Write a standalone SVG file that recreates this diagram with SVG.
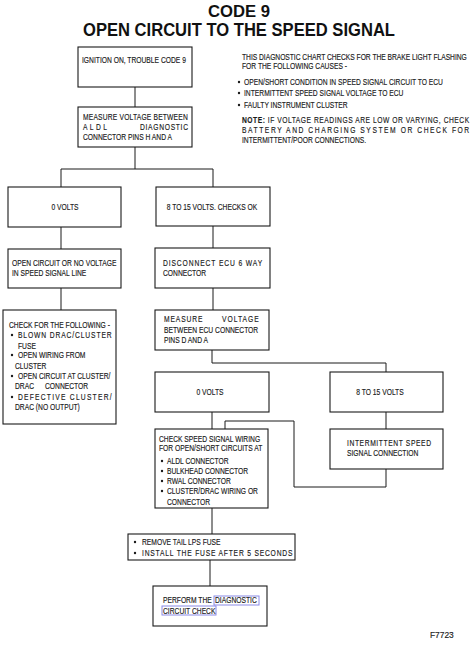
<svg xmlns="http://www.w3.org/2000/svg" width="474" height="647" viewBox="0 0 474 647">
<style>
.bx{fill:#fff;stroke:#1a1a1a;stroke-width:1.1}
.ln{fill:none;stroke:#1a1a1a;stroke-width:1}
.t{font-family:"Liberation Sans",Arial,sans-serif;font-size:8.4px;fill:#1a1a1a;stroke:#1a1a1a;stroke-width:0.15}
.m{text-anchor:middle}
.h{font-family:"Liberation Sans",Arial,sans-serif;font-weight:bold;fill:#111}
.b{fill:#1a1a1a}
.hl{fill:none;stroke:#8a8ae6;stroke-width:1}
</style>
<rect width="474" height="647" fill="#fff"/>
<g id="title">
<text class="h" x="208" y="17" font-size="17" textLength="62" lengthAdjust="spacingAndGlyphs">CODE 9</text>
<text class="h" x="83" y="36" font-size="18" textLength="312" lengthAdjust="spacingAndGlyphs">OPEN CIRCUIT TO THE SPEED SIGNAL</text>
</g>
<g id="description">
<text class="t" transform="translate(242,59.5) scale(0.8,1)" textLength="281" lengthAdjust="spacing">THIS DIAGNOSTIC CHART CHECKS FOR THE BRAKE LIGHT FLASHING</text>
<text class="t" transform="translate(242,69) scale(0.8,1)">FOR THE FOLLOWING CAUSES -</text>
<circle class="b" cx="239" cy="82" r="1.2"/>
<text class="t" transform="translate(244,85) scale(0.8,1)">OPEN/SHORT CONDITION IN SPEED SIGNAL CIRCUIT TO ECU</text>
<circle class="b" cx="239" cy="93" r="1.2"/>
<text class="t" transform="translate(244,96) scale(0.8,1)">INTERMITTENT SPEED SIGNAL VOLTAGE TO ECU</text>
<circle class="b" cx="239" cy="105" r="1.2"/>
<text class="t" transform="translate(244,108) scale(0.8,1)">FAULTY INSTRUMENT CLUSTER</text>
<text class="t" transform="translate(242,123) scale(0.8,1)" textLength="284" lengthAdjust="spacing"><tspan font-weight="bold">NOTE:</tspan>  IF VOLTAGE READINGS ARE LOW OR VARYING, CHECK</text>
<text class="t" transform="translate(242,133) scale(0.8,1)" textLength="284" lengthAdjust="spacing">BATTERY AND CHARGING SYSTEM OR CHECK FOR</text>
<text class="t" transform="translate(242,143) scale(0.8,1)">INTERMITTENT/POOR CONNECTIONS.</text>
</g>
<g id="connectors">
<path class="ln" d="M135,87V107"/>
<path class="ln" d="M135,147V169M61,169H213M61,169V187M213,169V187"/>
<path class="ln" d="M61,227V249M213,226V248"/>
<path class="ln" d="M61,288V310M213,288V310"/>
<path class="ln" d="M212,350V363H386V372"/>
<path class="ln" d="M212,412V429M386,412V429"/>
<path class="ln" d="M386,469V487H294V421H225V429"/>
<path class="ln" d="M212,508V534M210,560V586"/>
</g>
<g id="n-ignition">
<rect class="bx" x="78" y="47" width="114" height="40"/>
<text class="t" transform="translate(82,63) scale(0.8,1)">IGNITION ON, TROUBLE CODE 9</text>
</g>
<g id="n-measure-aldl">
<rect class="bx" x="78" y="107" width="114" height="40"/>
<text class="t" transform="translate(83,120) scale(0.8,1)" textLength="131" lengthAdjust="spacing">MEASURE VOLTAGE BETWEEN</text>
<text class="t" transform="translate(83,130) scale(0.8,1)" textLength="30" lengthAdjust="spacing">ALDL</text>
<text class="t" transform="translate(140,130) scale(0.8,1)" textLength="60" lengthAdjust="spacing">DIAGNOSTIC</text>
<text class="t" transform="translate(83,140) scale(0.8,1)">CONNECTOR PINS H AND A</text>
</g>
<g id="n-0volts-a">
<rect class="bx" x="8" y="187" width="113" height="40"/>
<text class="t m" transform="translate(65,210) scale(0.8,1)">0 VOLTS</text>
</g>
<g id="n-8to15-ok">
<rect class="bx" x="156" y="187" width="114" height="39"/>
<text class="t m" transform="translate(212,210) scale(0.8,1)">8 TO 15 VOLTS. CHECKS OK</text>
</g>
<g id="n-open-circuit">
<rect class="bx" x="8" y="249" width="113" height="39"/>
<text class="t" transform="translate(12,266) scale(0.8,1)">OPEN CIRCUIT OR NO VOLTAGE</text>
<text class="t" transform="translate(12,276) scale(0.8,1)">IN SPEED SIGNAL LINE</text>
</g>
<g id="n-disconnect">
<rect class="bx" x="155" y="248" width="115" height="40"/>
<text class="t" transform="translate(163,266) scale(0.8,1)" textLength="124" lengthAdjust="spacing">DISCONNECT ECU 6 WAY</text>
<text class="t" transform="translate(163,276) scale(0.8,1)">CONNECTOR</text>
</g>
<g id="n-check-following">
<rect class="bx" x="3" y="310" width="113" height="114"/>
<text class="t" transform="translate(9,328) scale(0.8,1)">CHECK FOR THE FOLLOWING -</text>
<circle class="b" cx="12" cy="335" r="1.2"/>
<text class="t" transform="translate(18,338) scale(0.8,1)" textLength="117" lengthAdjust="spacing">BLOWN DRAC/CLUSTER</text>
<text class="t" transform="translate(18,349) scale(0.8,1)">FUSE</text>
<circle class="b" cx="12" cy="355" r="1.2"/>
<text class="t" transform="translate(18,358) scale(0.8,1)">OPEN WIRING FROM</text>
<text class="t" transform="translate(15,369) scale(0.8,1)">CLUSTER</text>
<circle class="b" cx="12" cy="376" r="1.2"/>
<text class="t" transform="translate(18,379) scale(0.8,1)">OPEN CIRCUIT AT CLUSTER/</text>
<text class="t" transform="translate(15,389) scale(0.8,1)">DRAC</text>
<text class="t" transform="translate(45,389) scale(0.8,1)">CONNECTOR</text>
<circle class="b" cx="12" cy="397" r="1.2"/>
<text class="t" transform="translate(18,400) scale(0.8,1)" textLength="117" lengthAdjust="spacing">DEFECTIVE CLUSTER/</text>
<text class="t" transform="translate(15,410) scale(0.8,1)">DRAC (NO OUTPUT)</text>
</g>
<g id="n-measure-ecu">
<rect class="bx" x="155" y="310" width="114" height="40"/>
<text class="t" transform="translate(164,322) scale(0.8,1)" textLength="48" lengthAdjust="spacing">MEASURE</text>
<text class="t" transform="translate(222,322) scale(0.8,1)" textLength="46" lengthAdjust="spacing">VOLTAGE</text>
<text class="t" transform="translate(164,333) scale(0.8,1)">BETWEEN ECU CONNECTOR</text>
<text class="t" transform="translate(164,343) scale(0.8,1)">PINS D AND A</text>
</g>
<g id="n-0volts-b">
<rect class="bx" x="155" y="372" width="114" height="40"/>
<text class="t m" transform="translate(210,395) scale(0.8,1)">0 VOLTS</text>
</g>
<g id="n-8to15">
<rect class="bx" x="330" y="372" width="113" height="40"/>
<text class="t m" transform="translate(380,395) scale(0.8,1)">8 TO 15 VOLTS</text>
</g>
<g id="n-check-wiring">
<rect class="bx" x="155" y="429" width="113" height="79"/>
<text class="t" transform="translate(159,442) scale(0.8,1)">CHECK SPEED SIGNAL WIRING</text>
<text class="t" transform="translate(159,451) scale(0.8,1)">FOR OPEN/SHORT CIRCUITS AT</text>
<circle class="b" cx="162" cy="461" r="1.2"/>
<text class="t" transform="translate(167,464) scale(0.8,1)">ALDL CONNECTOR</text>
<circle class="b" cx="162" cy="471" r="1.2"/>
<text class="t" transform="translate(167,474) scale(0.8,1)">BULKHEAD CONNECTOR</text>
<circle class="b" cx="162" cy="481" r="1.2"/>
<text class="t" transform="translate(167,484) scale(0.8,1)">RWAL CONNECTOR</text>
<circle class="b" cx="162" cy="491" r="1.2"/>
<text class="t" transform="translate(167,494) scale(0.8,1)">CLUSTER/DRAC WIRING OR</text>
<text class="t" transform="translate(167,505) scale(0.8,1)">CONNECTOR</text>
</g>
<g id="n-intermittent">
<rect class="bx" x="330" y="429" width="113" height="40"/>
<text class="t" transform="translate(347,446) scale(0.8,1)" textLength="105" lengthAdjust="spacing">INTERMITTENT SPEED</text>
<text class="t" transform="translate(347,456) scale(0.8,1)">SIGNAL CONNECTION</text>
</g>
<g id="n-remove-fuse">
<rect class="bx" x="128" y="534" width="167" height="26"/>
<circle class="b" cx="135" cy="542" r="1.2"/>
<text class="t" transform="translate(142,545) scale(0.8,1)">REMOVE TAIL LPS FUSE</text>
<circle class="b" cx="135" cy="553" r="1.2"/>
<text class="t" transform="translate(142,556) scale(0.8,1)" textLength="188" lengthAdjust="spacing">INSTALL THE FUSE AFTER 5 SECONDS</text>
</g>
<g id="n-perform">
<rect class="bx" x="153" y="586" width="114" height="40"/>
<text class="t" transform="translate(163,603) scale(0.8,1)">PERFORM THE</text>
<rect class="hl" x="214" y="596" width="45" height="9"/>
<text class="t" transform="translate(215,603) scale(0.8,1)">DIAGNOSTIC</text>
<rect class="hl" x="162" y="606" width="54" height="9"/>
<text class="t" transform="translate(163,614) scale(0.8,1)">CIRCUIT CHECK</text>
</g>
<text class="t" x="430" y="638" font-size="9">F7723</text>
</svg>
